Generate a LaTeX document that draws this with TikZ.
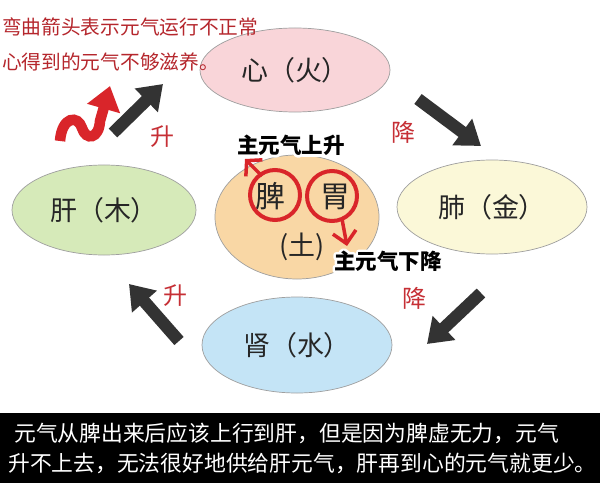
\documentclass[tikz,border=0pt]{standalone}
\usepackage{fontspec}
\setmainfont{Noto Sans CJK SC}
\usetikzlibrary{arrows.meta,shapes.geometric}
\definecolor{pinkF}{HTML}{F9D5D9}
\definecolor{greenF}{HTML}{D6EAB9}
\definecolor{peachF}{HTML}{F9D7A5}
\definecolor{yellowF}{HTML}{FBF8D8}
\definecolor{blueF}{HTML}{C4E4F6}
\definecolor{noteRed}{HTML}{B5262C}
\definecolor{labRed}{HTML}{C62F35}
\definecolor{ringRed}{HTML}{D9252A}
\definecolor{arrowGray}{HTML}{333333}
\newcommand\strokeon{\special{pdf:literal direct 1 Tr 4.5 w 1 j 1 1 1 RG}}
\newcommand\strokeoff{\special{pdf:literal direct 0 Tr}}
\newcommand\halotext[3]{%
  \node[halo] at (#2) {\strokeon #3\strokeoff};
  \node[halo] (#1) at (#2) {#3};}
\begin{document}
\begin{tikzpicture}[x=0.03cm,y=-0.03cm,
  organ/.style={ellipse,draw=gray!75,line width=0.6pt,inner sep=0pt,text=black!85,font=\fontsize{23}{27}\selectfont},
  organtxt/.style={text=black!85,font=\fontsize{23}{27}\selectfont,inner sep=0pt},
  bigtxt/.style={text=black!85,font=\fontsize{25.5}{29}\selectfont,inner sep=0pt},
  ring/.style={circle,draw=ringRed,line width=3.4pt,minimum size=1.5cm,inner sep=0pt},
  ringarrow/.style={draw=ringRed,line width=3pt},
  halo/.style={font=\bfseries\fontsize{18.4}{22}\selectfont,inner sep=0pt},
  updown/.style={text=labRed,font=\fontsize{20.5}{24}\selectfont,inner sep=0pt},
  note/.style={text=noteRed,font=\fontsize{16.8}{20}\selectfont,inner sep=0pt,anchor=west},
  bottomtxt/.style={text=white,font=\fontsize{18.6}{23}\selectfont,inner sep=0pt,anchor=west},
  bigarrow/.style={draw=arrowGray,line width=10.5pt,-{Triangle[width=27pt,length=20pt]}}]
\useasboundingbox (0,0) rectangle (600,483);
\fill[white] (0,0) rectangle (600,483);
% organs
\node[organ,fill=pinkF,minimum width=5.7cm,minimum height=2.52cm] (xin) at (295,70) {心（火）};
\node[organ,fill=greenF,minimum width=5.52cm,minimum height=2.7cm] (gan) at (104,210) {肝（木）};
\node[organ,fill=peachF,minimum width=4.92cm,minimum height=3.72cm] (tu) at (297,217) {};
\node[organ,fill=yellowF,minimum width=5.7cm,minimum height=2.82cm] (fei) at (492,207) {肺（金）};
\node[organ,fill=blueF,minimum width=5.7cm,minimum height=2.88cm] (shen) at (297,345) {肾（水）};
% note text (over the heart ellipse edge)
\node[note] (n1) at (2,27) {弯曲箭头表示元气运行不正常};
\node[note] (n2) at (2,62) {心得到的元气不够滋养。};
% spleen / stomach
\node[bigtxt] (pi) at (270,196) {脾};
\node[bigtxt] (wei) at (335,197) {胃};
\node[organtxt] (tut) at (302,247) {(土)};
\node[ring] (pir) at (275,195) {};
\node[ring] (weir) at (332,196) {};
\coordinate (u1) at (262,176);
\coordinate (u2) at (245,159);
\draw[ringarrow,-{Straight Barb[length=9pt,width=20pt,line width=3pt]}] (u1) -- (u2);
\coordinate (d1) at (342,219);
\coordinate (d2) at (347,246);
\draw[ringarrow,-{Straight Barb[length=10pt,width=20pt,line width=3pt]}] (d1) -- (d2);
\halotext{up}{291,145}{主元气上升}
\halotext{down}{388,261}{主元气下降}
% big arrows
\coordinate (a1s) at (113,133); \coordinate (a1e) at (163,84);
\coordinate (a2s) at (418,99);  \coordinate (a2e) at (481,146);
\coordinate (a3s) at (481,293); \coordinate (a3e) at (427,344);
\coordinate (a4s) at (179,341); \coordinate (a4e) at (129,284);
\draw[bigarrow] (a1s) -- (a1e);
\draw[bigarrow] (a2s) -- (a2e);
\draw[bigarrow] (a3s) -- (a3e);
\draw[bigarrow] (a4s) -- (a4e);
% wavy red arrow
\coordinate (w0) at (60,141);
\coordinate (w1) at (82,128);
\coordinate (w2) at (100,121);
\coordinate (w3) at (110,86);
\draw[draw=ringRed,line width=9pt,-{Triangle[width=28pt,length=20pt]}]
  (w0) .. controls (62,116) and (78,115) .. (w1)
       .. controls (86,141) and (99,139) .. (w2)
       -- (w3);
% rise / fall labels
\node[updown] (s1) at (163,137) {升};
\node[updown] (j1) at (403,132) {降};
\node[updown] (s2) at (176,296) {升};
\node[updown] (j2) at (415,298) {降};
% bottom caption
\fill[black] (0,413) rectangle (600,483);
\node[bottomtxt] (c1) at (14,433) {元气从脾出来后应该上行到肝，但是因为脾虚无力，元气};
\node[bottomtxt] (c2) at (8,463) {升不上去，无法很好地供给肝元气，肝再到心的元气就更少。};
\end{tikzpicture}
\end{document}
